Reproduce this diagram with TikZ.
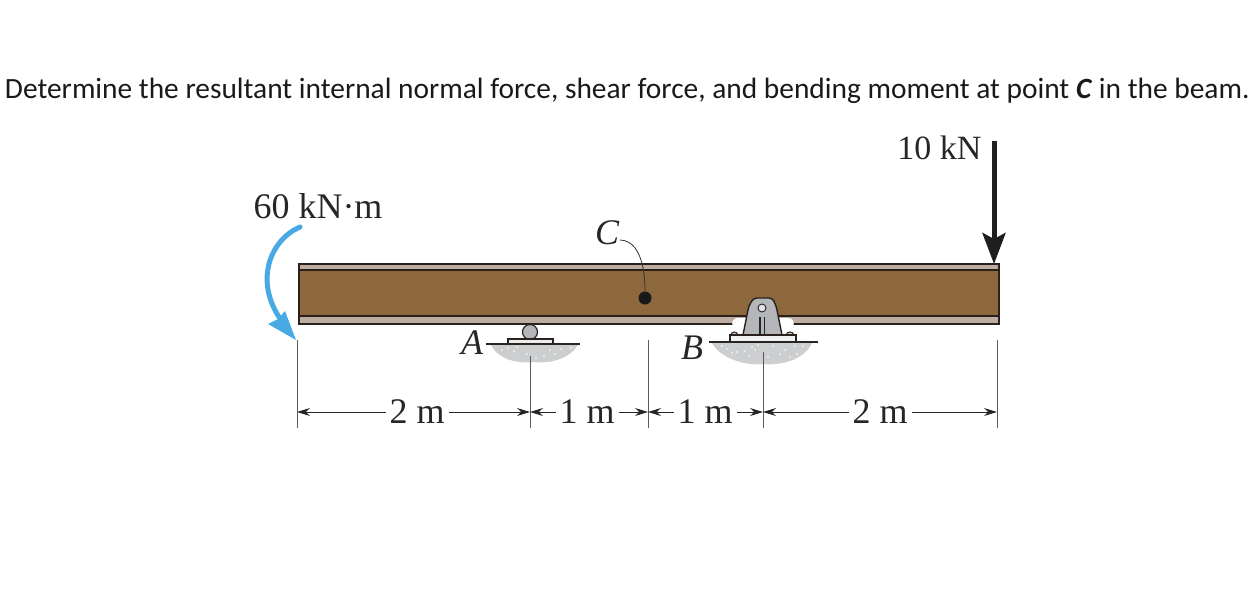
\documentclass[tikz,border=0pt]{standalone}
\usepackage{fontspec}
\setmainfont{Liberation Serif}
\newfontfamily\headfont{Carlito}
\usepackage{tikz}
\usetikzlibrary{calc,arrows.meta}
\definecolor{webbrown}{HTML}{8C683C}
\definecolor{flangegray}{HTML}{BDACA2}
\definecolor{beamline}{HTML}{2A211C}
\definecolor{momentblue}{HTML}{48A9E3}
\definecolor{groundgray}{HTML}{CDCECF}
\definecolor{pingray}{HTML}{B4B6B9}
\definecolor{dimgray}{HTML}{5A5A5A}
\tikzset{
  lbl/.style={font=\fontsize{36}{36}\selectfont,text=black!85},
  itlbl/.style={font=\fontsize{36}{36}\selectfont\itshape,text=black!85},
  dimlbl/.style={font=\fontsize{36}{36}\selectfont,text=black!85},
  ticked/.style={draw=dimgray,line width=1pt},
  dimarrow/.style={draw=black!85,line width=1pt,-{Stealth[length=13pt,width=8pt]}},
  part/.style={draw=beamline,line width=1.4pt}
}
\begin{document}
\begin{tikzpicture}[x=1pt,y=-1pt,inner sep=0pt,outer sep=0pt]
    \useasboundingbox (0,0) rectangle (1256,614);

    % heading
    \node[anchor=west,font=\headfont\fontsize{29.4}{30}\selectfont,text=black!90] (head) at (5,91)
    {Determine the resultant internal normal force, shear force, and bending moment at point \textbf{\textit{C}} in the beam.};

    % beam
    \fill[flangegray] (299,264) rectangle (999,324);
    \fill[webbrown] (299,270) rectangle (999,316);
    \draw[part] (299,264) rectangle (999,324);
    \draw[part] (299,270) -- (999,270);
    \draw[part] (299,316) -- (999,316);

    % point c
    \node[circle,fill=black!90,minimum size=13pt] (pt_c) at (645,298) {};
    \node[itlbl] (c_lbl) at (607,233) {C};
    \draw[line width=0.8pt,draw=black!80] ($(c_lbl.east) + (1,7)$)
      .. controls (632,240) and (645,252) .. (pt_c.north);

    % roller a
    \fill[groundgray] (491,345) .. controls (497,358) and (515,364) .. (533,362)
      .. controls (552,364) and (570,358) .. (578,345) -- cycle;
    \foreach \px/\py in {514/351, 517/347, 508/348, 527/354, 550/350, 561/349, 571/348, 536/358, 502/350, 544/356, 555/354}
      \fill[white] (\px,\py) circle (0.9pt);
    \node[circle,draw=black!85,fill=pingray,line width=1.2pt,minimum size=15pt] (roller) at (530,332) {};
    \draw[part,fill=white!85!gray] (508,339) rectangle (553,344);
    \draw[line width=1.2pt,draw=black!85] (486,344) -- (580,344);
    \node[itlbl] (a_lbl) at (472,343) {A};

    % pin b
    \fill[white] (733,327) .. controls (731,322) and (733,318) .. (738,318)
      -- (788,318) .. controls (793,318) and (795,322) .. (793,327) -- cycle;
    \fill[groundgray] (712,343) .. controls (720,358) and (745,366) .. (762,364)
      .. controls (785,366) and (805,358) .. (812,343) -- cycle;
    \foreach \px/\py in {722/346, 732/353, 737/352, 745/351, 752/347, 755/350, 758/345, 773/346, 780/354, 785/350, 795/346, 797/354, 803/346, 749/356, 768/357, 727/349, 790/357}
      \fill[white] (\px,\py) circle (0.9pt);
    \draw[part,fill=flangegray!60!white,line width=1pt] (731,335) .. controls (731,331) and (737,331) .. (738,335);
    \draw[part,fill=flangegray!60!white,line width=1pt] (786,335) .. controls (787,331) and (793,331) .. (794,335);
    \draw[part,fill=pingray] (743,335) -- (748,310)
      .. controls (750,302) and (753,298) .. (757,298) -- (769,298)
      .. controls (773,298) and (775,302) .. (777,310) -- (782,335) -- cycle;
    \node[circle,draw=black!85,fill=white!80!gray,line width=0.9pt,minimum size=8pt] (pin) at (762,308) {};
    \draw[line width=1.3pt,draw=black!85] (760,317) -- (760,335);
    \draw[line width=1.3pt,draw=black!85] (764.5,317) -- (764.5,335);
    \draw[part,fill=white!90!gray,line width=1.1pt] (730,335) rectangle (796,342);
    \draw[line width=1.2pt,draw=black!85] (709,342) -- (818,342);
    \node[itlbl] (b_lbl) at (692,348) {B};

    % loads
    \node[lbl] (moment_lbl) at (318,206) {60 kN·m};
    \coordinate (moment_start) at (300,227);
    \coordinate (moment_neck) at (279,317);
    \coordinate (moment_tip) at (296,340);
    \draw[draw=momentblue,line width=5pt,line cap=round]
      (moment_start) .. controls (270,240) and (255,280) .. (moment_neck);
    \fill[momentblue] (moment_tip) -- (268,324) -- (278,319) -- (285,311) -- cycle;

    \node[lbl,font=\fontsize{34}{34}\selectfont] (force_lbl) at (939.5,148) {10 kN};
    \coordinate (force_start) at (994,141);
    \coordinate (force_tip) at (994,264);
    \draw[draw=black!88,line width=5pt,-{Stealth[length=31pt,width=23pt,inset=6pt]}]
      (force_start) -- (force_tip);

    % dimension lines
    \coordinate (t1a) at (297,340); \coordinate (t1b) at (297,428);
    \coordinate (t2a) at (530,356); \coordinate (t2b) at (530,428);
    \coordinate (t3a) at (648,340); \coordinate (t3b) at (648,428);
    \coordinate (t4a) at (763,352); \coordinate (t4b) at (763,428);
    \coordinate (t5a) at (997,340); \coordinate (t5b) at (997,428);
    \foreach \tk in {1,2,3,4,5}
      \draw[ticked] (t\tk a) -- (t\tk b);

    \node[dimlbl] (d1) at (417,412) {2 m};
    \node[dimlbl] (d2) at (587,412) {1 m};
    \node[dimlbl] (d3) at (705,412) {1 m};
    \node[dimlbl] (d4) at (880,412) {2 m};

    \draw[dimarrow] ($(d1.west) + (-4,0)$) -- ($(d1.west -| t1a)$);
    \draw[dimarrow] ($(d1.east) + (4,0)$) -- ($(d1.east -| t2a)$);
    \draw[dimarrow] ($(d2.west) + (-4,0)$) -- ($(d2.west -| t2a)$);
    \draw[dimarrow] ($(d2.east) + (4,0)$) -- ($(d2.east -| t3a)$);
    \draw[dimarrow] ($(d3.west) + (-4,0)$) -- ($(d3.west -| t3a)$);
    \draw[dimarrow] ($(d3.east) + (4,0)$) -- ($(d3.east -| t4a)$);
    \draw[dimarrow] ($(d4.west) + (-4,0)$) -- ($(d4.west -| t4a)$);
    \draw[dimarrow] ($(d4.east) + (4,0)$) -- ($(d4.east -| t5a)$);
\end{tikzpicture}
\end{document}
